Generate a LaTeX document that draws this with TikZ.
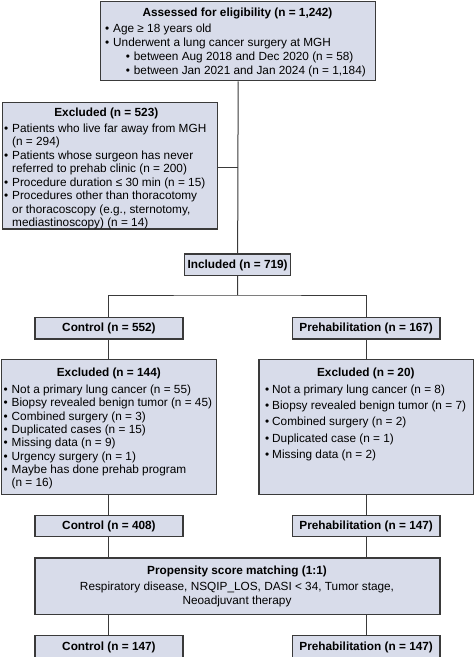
\documentclass[tikz,border=0pt]{standalone}
\usepackage{fontspec}
\setmainfont{Liberation Sans}
\definecolor{boxfill}{RGB}{216,220,234}
\definecolor{boxline}{RGB}{58,58,58}
\newcommand{\bul}{\makebox[8bp][l]{\textbullet}}
\newcommand{\bulb}{\makebox[7bp][l]{\textbullet}}
\newcommand{\ind}{\hspace*{8bp}}
\tikzset{
  box/.style={draw=boxline, fill=boxfill, line width=1.3bp, inner sep=0, anchor=north west},
  sbox/.style={box, font=\fontsize{11.8bp}{13.4bp}\selectfont\bfseries, text height=8.6bp, text depth=1bp},
  conn/.style={draw=boxline, line width=1bp},
  txt/.style={inner sep=0, align=left, anchor=base west, font=\fontsize{11.8bp}{13.4bp}\selectfont},
  ttl/.style={inner sep=0, anchor=base, font=\fontsize{11.8bp}{13.4bp}\selectfont\bfseries},
}
\begin{document}
\begin{tikzpicture}[x=1bp,y=-1bp]
\useasboundingbox[fill=white] (0,0) rectangle (474,657);
% boxes
\node[box, minimum width=275bp, minimum height=79.2bp] (elig) at (100,0.8) {};
\node[box, minimum width=215.2bp, minimum height=126.6bp] (ex1) at (1.5,101.7) {};
\node[sbox, minimum width=106bp, minimum height=21.4bp] (incl) at (184,253.3) {Included (n = 719)};
\node[sbox, minimum width=148bp, minimum height=21.6bp] (ctl1) at (34.3,316.7) {Control (n = 552)};
\node[sbox, minimum width=147.6bp, minimum height=21.6bp] (pre1) at (291.7,316.7) {Prehabilitation (n = 167)};
\node[box, minimum width=215.3bp, minimum height=135bp] (ex2) at (0.7,359) {};
\node[box, minimum width=215bp, minimum height=135bp] (ex3) at (258.3,359) {};
\node[sbox, minimum width=148bp, minimum height=21bp] (ctl2) at (34.3,515) {Control (n = 408)};
\node[sbox, minimum width=147.6bp, minimum height=21bp] (pre2) at (291.7,515) {Prehabilitation (n = 147)};
\node[box, minimum width=405bp, minimum height=56.7bp] (psm) at (34.3,557.3) {};
\node[sbox, minimum width=148bp, minimum height=21.5bp] (ctl3) at (34.3,635) {Control (n = 147)};
\node[sbox, minimum width=147.6bp, minimum height=21.5bp] (pre3) at (291.7,635) {Prehabilitation (n = 147)};
% texts (multi-line nodes: base anchor = baseline of last line)
\node[ttl] (eligT) at (237.5,16.7) {Assessed for eligibility (n = 1,242)};
\node[txt, font=\fontsize{11.8bp}{13.8bp}\selectfont] (eligL) at (105,74.1) {\bul Age ≥ 18 years old\\
\bul Underwent a lung cancer surgery at MGH\\
\hspace*{20.7bp}\bul between Aug 2018 and Dec 2020 (n = 58)\\
\hspace*{20.7bp}\bul between Jan 2021 and Jan 2024 (n = 1,184)};
\node[ttl] (ex1T) at (106.3,116.7) {Excluded (n = 523)};
\node[txt, font=\fontsize{11.8bp}{13.45bp}\selectfont] (ex1L) at (4,226.5) {\bul Patients who live far away from MGH\\
\ind(n = 294)\\
\bul Patients whose surgeon has never\\
\ind referred to prehab clinic (n = 200)\\
\bul Procedure duration ≤ 30 min (n = 15)\\
\bul Procedures other than thoracotomy\\
\ind or thoracoscopy (e.g., sternotomy,\\
\ind mediastinoscopy) (n = 14)};
\node[ttl] (ex2T) at (108.8,376) {Excluded (n = 144)};
\node[txt, font=\fontsize{11.8bp}{13.35bp}\selectfont] (ex2L) at (3.5,486.8) {\bul Not a primary lung cancer (n = 55)\\
\bul Biopsy revealed benign tumor (n = 45)\\
\bul Combined surgery (n = 3)\\
\bul Duplicated cases (n = 15)\\
\bul Missing data (n = 9)\\
\bul Urgency surgery (n = 1)\\
\bul Maybe has done prehab program\\
\ind(n = 16)};
\node[ttl] (ex3T) at (365.8,376) {Excluded (n = 20)};
\node[txt, font=\fontsize{11.8bp}{16.25bp}\selectfont] (ex3L) at (265,458.3) {\bulb Not a primary lung cancer (n = 8)\\
\bulb Biopsy revealed benign tumor (n = 7)\\
\bulb Combined surgery (n = 2)\\
\bulb Duplicated case (n = 1)\\
\bulb Missing data (n = 2)};
\node[ttl] (psmT) at (237,574) {Propensity score matching (1:1)};
\node[txt, align=center, anchor=base, font=\fontsize{11.8bp}{13.3bp}\selectfont] (psmL) at (237,604) {Respiratory disease, NSQIP\_LOS, DASI < 34, Tumor stage,\\ Neoadjuvant therapy};
% connectors
\coordinate (j1) at (237.5,167.3);
\coordinate (split) at (237.5,295);
\draw[conn] (elig.south) -- (incl.north);
\draw[conn] (j1) -- (j1 -| ex1.east);
\draw[conn] (incl.south) -- (split);
\draw[conn] (ctl1.north) |- (split) -| (pre1.north);
\draw[conn] (ctl1.south) -- (ex2.north -| ctl1.south);
\draw[conn] (pre1.south) -- (ex3.north -| pre1.south);
\draw[conn] (ex2.south -| ctl2.north) -- (ctl2.north);
\draw[conn] (ex3.south -| pre2.north) -- (pre2.north);
\draw[conn] (ctl2.south) -- (psm.north -| ctl2.south);
\draw[conn] (pre2.south) -- (psm.north -| pre2.south);
\draw[conn] (psm.south -| ctl3.north) -- (ctl3.north);
\draw[conn] (psm.south -| pre3.north) -- (pre3.north);
\end{tikzpicture}
\end{document}
